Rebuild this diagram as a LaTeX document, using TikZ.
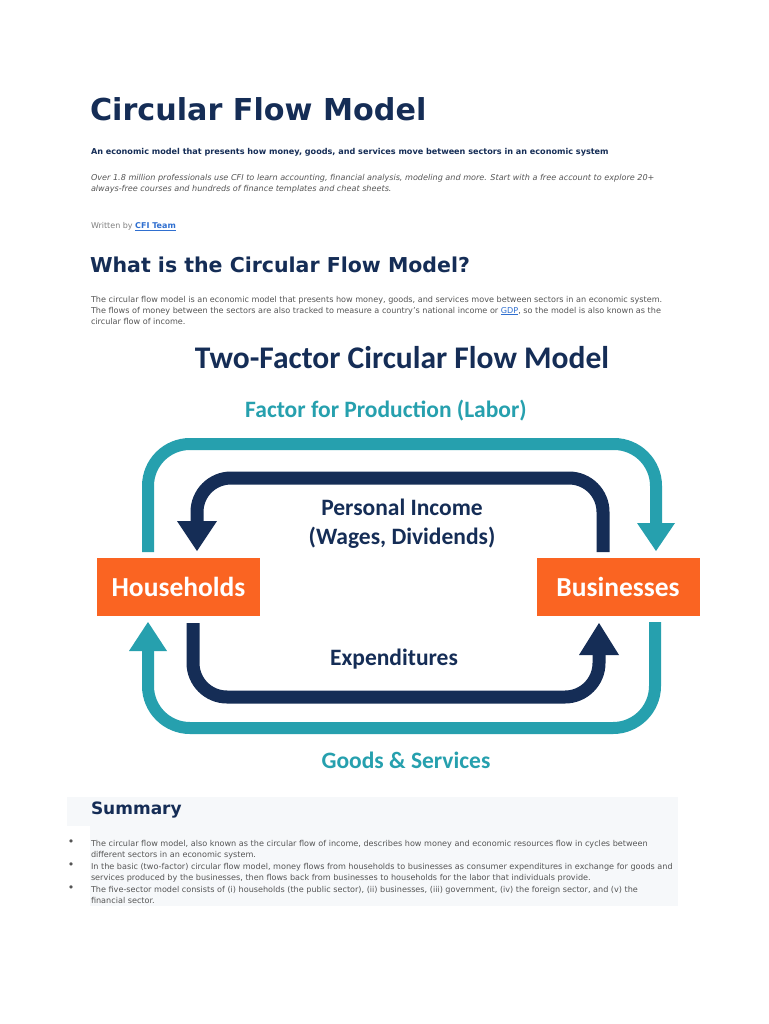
\documentclass[tikz,border=0pt]{standalone}
\usepackage{fontspec}
\setmainfont{DejaVu Sans}
\newfontfamily\carfont{Carlito}
\definecolor{teal1}{HTML}{26A0AE}
\definecolor{navy1}{HTML}{152D56}
\definecolor{orng}{HTML}{FA6422}
\definecolor{txtg}{HTML}{555555}
\definecolor{lnk}{HTML}{2F6FD0}
\definecolor{sumbg}{HTML}{F6F8FA}
\begin{document}
\begin{tikzpicture}[x=1pt,y=-1pt,
  every node/.style={inner sep=0pt,outer sep=0pt},
  ln/.style={anchor=base west,font=\fontsize{8.1}{9}\selectfont,text=txtg},
  tflow/.style={line width=12pt,teal1,rounded corners=42pt},
  nflow/.style={line width=13pt,navy1,rounded corners=34pt},
  box/.style={fill=orng,minimum width=163pt,minimum height=58pt,text=white,font=\carfont\bfseries\fontsize{27.5}{30}\selectfont},
  lbl/.style={font=\carfont\bfseries\fontsize{23.5}{27}\selectfont}]
\useasboundingbox (0,0) rectangle (768,1024);
\fill[white] (0,0) rectangle (768,1024);
\node[anchor=base west,font=\bfseries\fontsize{30.2}{36}\selectfont,text=navy1] (t1) at (90,121) {Circular Flow Model};
\node[anchor=base west,font=\bfseries\fontsize{8.1}{9}\selectfont,text=navy1] (t2) at (91,155) {An economic model that presents how money, goods, and services move between sectors in an economic system};
\node[ln,font=\itshape\fontsize{8.1}{9}\selectfont] (t3) at (91,181) {Over 1.8 million professionals use CFI to learn accounting, financial analysis, modeling and more. Start with a free account to explore 20+};
\node[ln,font=\itshape\fontsize{8.1}{9}\selectfont] (t4) at (91,192) {always-free courses and hundreds of finance templates and cheat sheets.};
\node[ln,font=\fontsize{8}{9}\selectfont,text=gray] (t5) at (91,229) {Written by \textcolor{lnk}{\bfseries\underline{CFI Team}}};
\node[anchor=base west,font=\bfseries\fontsize{20.5}{24}\selectfont,text=navy1] (t6) at (90,272) {What is the Circular Flow Model?};
\node[ln] (p1) at (91,302) {The circular flow model is an economic model that presents how money, goods, and services move between sectors in an economic system.};
\node[ln] (p2) at (91,313) {The flows of money between the sectors are also tracked to measure a country’s national income or \textcolor{lnk}{\underline{GDP}}, so the model is also known as the};
\node[ln] (p3) at (91,324) {circular flow of income.};
% diagram
\node[font=\carfont\bfseries\fontsize{31.5}{36}\selectfont,text=navy1] (dt) at (402,358) {Two-Factor Circular Flow Model};
\node[lbl,text=teal1] (lab1) at (386,411) {Factor for Production (Labor)};
\node[lbl,text=teal1] (lab2) at (406,760) {Goods \& Services};
\node[lbl,text=navy1,align=center,font=\carfont\bfseries\fontsize{23.5}{29}\selectfont] (lab3) at (402,524) {Personal Income\\(Wages, Dividends)};
\node[lbl,text=navy1] (lab4) at (394,659) {Expenditures};
\node[box] (hh) at (178.5,587) {Households};
\node[box] (bz) at (618,587) {Businesses};
% teal top
\coordinate (a1) at (148,552);
\coordinate (a2) at (656,524);
\draw[tflow] (a1) -- (148,444) -- (656,444) -- (a2);
\fill[teal1] (637,523) -- (675,523) -- (656,551) -- cycle;
% navy top
\coordinate (b1) at (603,552);
\coordinate (b2) at (197,522);
\draw[nflow] (b1) -- (603,478) -- (197,478) -- (b2);
\fill[navy1] (177,521) -- (217,521) -- (197,551) -- cycle;
% navy bottom
\coordinate (c1) at (193,623);
\coordinate (c2) at (599,655);
\draw[nflow] (c1) -- (193,697) -- (599,697) -- (c2);
\fill[navy1] (579,655) -- (619,655) -- (599,623) -- cycle;
% teal bottom
\coordinate (d1) at (655,622);
\coordinate (d2) at (148,651);
\draw[tflow] (d1) -- (655,728) -- (148,728) -- (d2);
\fill[teal1] (129,651) -- (167,651) -- (148,622) -- cycle;
% summary
\fill[sumbg] (67,797) rectangle (678,906);
\fill[white] (67,826) rectangle (90,906);
\node[anchor=base west,font=\bfseries\fontsize{17}{20}\selectfont,text=navy1] (sm) at (91,814) {Summary};
\foreach \y in {846,869,892} \node[font=\fontsize{11}{12}\selectfont,text=txtg] at (71,\y-3) {•};
\node[ln] (s1) at (91,846) {The circular flow model, also known as the circular flow of income, describes how money and economic resources flow in cycles between};
\node[ln] (s2) at (91,857) {different sectors in an economic system.};
\node[ln] (s3) at (91,869) {In the basic (two-factor) circular flow model, money flows from households to businesses as consumer expenditures in exchange for goods and};
\node[ln] (s4) at (91,880) {services produced by the businesses, then flows back from businesses to households for the labor that individuals provide.};
\node[ln] (s5) at (91,892) {The five-sector model consists of (i) households (the public sector), (ii) businesses, (iii) government, (iv) the foreign sector, and (v) the};
\node[ln] (s6) at (91,903) {financial sector.};
\end{tikzpicture}
\end{document}
